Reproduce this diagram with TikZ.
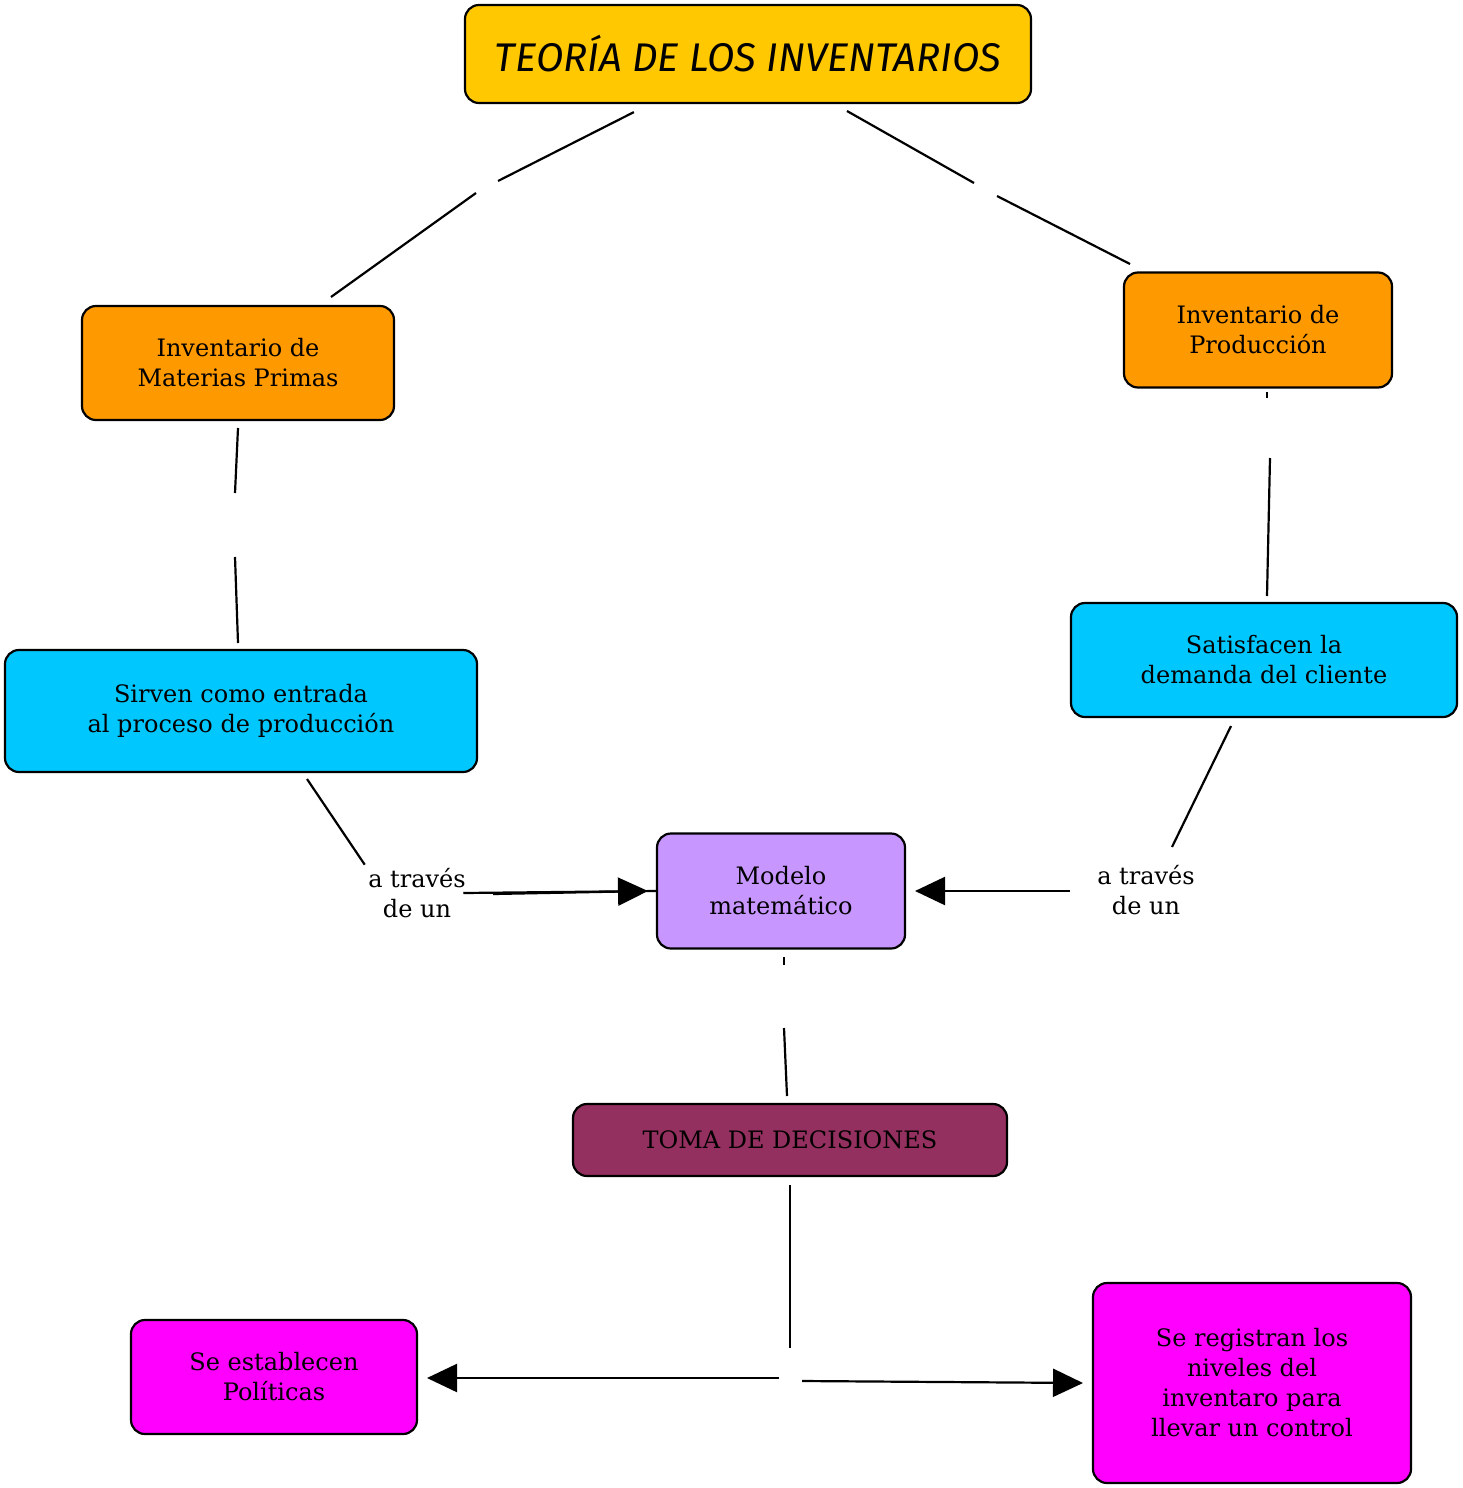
\documentclass[tikz,border=0pt]{standalone}
\usepackage{fontspec}
\setmainfont{DejaVu Serif}
\newfontfamily\titlefont{Fira Sans}
\usetikzlibrary{arrows.meta}
\begin{document}
\begin{tikzpicture}[x=1pt,y=-1pt,
 box/.style={draw=black,line width=2.2pt,rounded corners=14pt,align=center,font=\fontsize{24}{30}\selectfont,inner sep=0pt},
 ln/.style={line width=2.2pt},
 arr/.style={line width=2.2pt,-{Triangle[length=30pt,width=28pt]}},
 lbl/.style={align=center,font=\fontsize{24}{30}\selectfont}]
\fill[white] (0,0) rectangle (1462,1488);
\useasboundingbox (0,0) rectangle (1462,1488);
\definecolor{cgold}{HTML}{FFC800}
\definecolor{corange}{HTML}{FF9900}
\definecolor{ccyan}{HTML}{00C8FF}
\definecolor{clav}{HTML}{C896FF}
\definecolor{cmaroon}{HTML}{94305F}
\definecolor{cmag}{HTML}{FF00FF}
\node[box,fill=cgold,minimum width=566,minimum height=98,font=\titlefont\itshape\fontsize{40}{44}\selectfont] (t) at (748,54) {TEORÍA DE LOS INVENTARIOS};
\node[box,fill=corange,minimum width=312,minimum height=114] (mp) at (238,363) {Inventario de\\Materias Primas};
\node[box,fill=corange,minimum width=268,minimum height=115] (pr) at (1258,330) {Inventario de\\Producción};
\node[box,fill=ccyan,minimum width=472,minimum height=122] (si) at (241,711) {Sirven como entrada\\al proceso de producción};
\node[box,fill=ccyan,minimum width=386,minimum height=114] (sa) at (1264,660) {Satisfacen la\\demanda del cliente};
\node[box,fill=clav,minimum width=248,minimum height=115] (mo) at (781,891) {Modelo\\matemático};
\node[box,fill=cmaroon,minimum width=434,minimum height=72] (to) at (790,1140) {TOMA DE DECISIONES};
\node[box,fill=cmag,minimum width=286,minimum height=114] (po) at (274,1377) {Se establecen\\Políticas};
\node[box,fill=cmag,minimum width=318,minimum height=200] (re) at (1252,1383) {Se registran los\\niveles del\\inventaro para\\llevar un control};
\node[lbl] (l1) at (417,893) {a través\\de un};
\node[lbl] (l2) at (1146,890) {a través\\de un};
\coordinate (a1) at (498,181); \coordinate (a2) at (476,193);
\draw[ln] (t.south west)++(170,8) -- (a1);
\draw[ln] (a2) -- (331,297);
\coordinate (b1) at (974,183); \coordinate (b2) at (997,196);
\draw[ln] (847,111) -- (b1); \draw[ln] (b2) -- (1130,264);
\coordinate (c1) at (235,493); \coordinate (c2) at (235,557);
\draw[ln] (238,428) -- (c1); \draw[ln] (c2) -- (238,643);
\coordinate (d1) at (1267,398); \coordinate (d2) at (1270,458);
\draw[ln] (1267,392) -- (d1); \draw[ln] (d2) -- (1267,596);
\draw[ln] (307,779) -- (l1.north west)++(0,0);
\draw[ln] (l1.east) ++(-6,0) -- (mo.west);
\draw[arr] (493,894) -- (648,891);
\draw[ln] (1231,726) -- (1172,847);
\draw[arr] (1070,891) -- (915,891);
\coordinate (e1) at (784,965); \coordinate (e2) at (784,1028);
\draw[ln] (784,957) -- (e1); \draw[ln] (e2) -- (787,1096);
\coordinate (f) at (790,1348);
\draw[ln] (790,1185) -- (f);
\draw[arr] (779,1378) -- (427,1378);
\draw[arr] (802,1381) -- (1083,1383);
\end{tikzpicture}
\end{document}
